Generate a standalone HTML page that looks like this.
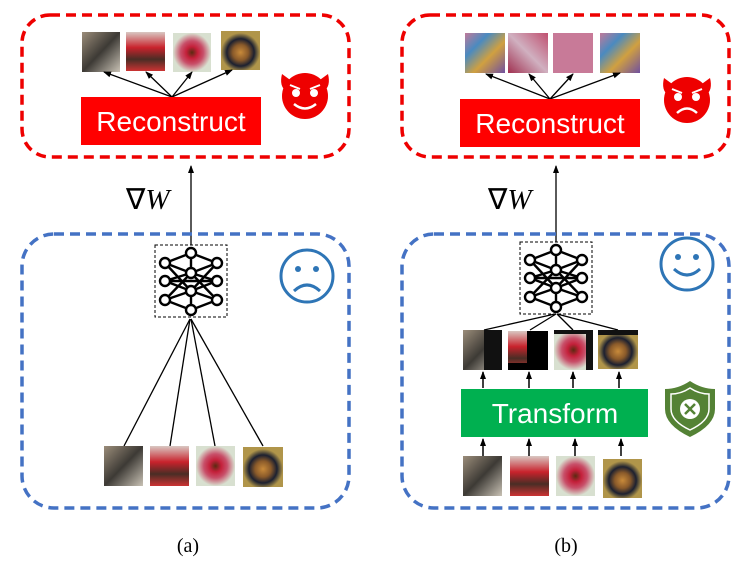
<!DOCTYPE html>
<html><head><style>body{margin:0;background:#fff}svg{display:block}</style></head><body>
<svg width="752" height="582" viewBox="0 0 752 582" xmlns="http://www.w3.org/2000/svg" font-family="Liberation Sans, sans-serif">
<defs>
<marker id="ah" markerWidth="8" markerHeight="8" refX="7" refY="4" orient="auto" markerUnits="userSpaceOnUse"><path d="M0,1 L8,4 L0,7 z" fill="#000"/></marker>
<g id="net">
<rect x="0" y="0" width="72" height="72" fill="none" stroke="#000" stroke-width="1" stroke-dasharray="3,2"/>
<g stroke="#000" stroke-width="2.4" fill="none">
<path d="M36,8 L10,18 M36,8 L62,18 M36,8 L36,28 M10,18 L36,28 L62,18 M10,18 L36,46 M62,18 L36,46 M10,36 L36,28 L62,36 M10,36 L36,46 L62,36 M10,36 L62,36 M10,55 L36,46 L62,55 M10,55 L36,65 L62,55 M10,55 L36,28 M62,55 L36,28 M36,46 L36,65"/>
</g>
<g stroke="#000" stroke-width="2.4" fill="#fff">
<circle cx="36" cy="8" r="5"/><circle cx="10" cy="18" r="5"/><circle cx="62" cy="18" r="5"/>
<circle cx="36" cy="28" r="5"/><circle cx="10" cy="36" r="5"/><circle cx="62" cy="36" r="5"/>
<circle cx="36" cy="46" r="5"/><circle cx="10" cy="55" r="5"/><circle cx="62" cy="55" r="5"/>
<circle cx="36" cy="65" r="5"/>
</g>
</g>
<linearGradient id="g1" x1="0" y1="0" x2="1" y2="1"><stop offset="0" stop-color="#9b8d7a"/><stop offset=".5" stop-color="#3d3a35"/><stop offset="1" stop-color="#c9c2b5"/></linearGradient>
<linearGradient id="g2" x1="0" y1="0" x2="0" y2="1"><stop offset="0" stop-color="#d9c7c2"/><stop offset=".4" stop-color="#c9222c"/><stop offset=".7" stop-color="#4a2d25"/><stop offset="1" stop-color="#c33"/></linearGradient>
<radialGradient id="g3"><stop offset="0" stop-color="#5a2a10"/><stop offset=".3" stop-color="#c4203a"/><stop offset=".6" stop-color="#c8506a"/><stop offset="1" stop-color="#d8e0d0"/></radialGradient>
<radialGradient id="g4" cy=".55"><stop offset="0" stop-color="#c88a3a"/><stop offset=".4" stop-color="#8a5a2a"/><stop offset=".7" stop-color="#1c2030"/><stop offset="1" stop-color="#b0954a"/></radialGradient>
<linearGradient id="n1" x1="0" y1="0" x2="1" y2="1"><stop offset="0" stop-color="#c07a9a"/><stop offset=".3" stop-color="#4a8ac0"/><stop offset=".6" stop-color="#d0a040"/><stop offset="1" stop-color="#7050a0"/></linearGradient>
<linearGradient id="n2" x1="1" y1="0" x2="0" y2="1"><stop offset="0" stop-color="#c05070"/><stop offset=".5" stop-color="#d0b0c0"/><stop offset="1" stop-color="#a03050"/></linearGradient>
</defs>

<!-- LEFT -->
<rect x="22" y="15" width="327" height="142" rx="28" fill="none" stroke="#e00" stroke-width="3.5" stroke-dasharray="10,6"/>
<rect x="82" y="32" width="38" height="40" fill="url(#g1)"/>
<rect x="126" y="32" width="39" height="39" fill="url(#g2)"/>
<rect x="173" y="33" width="38" height="39" fill="url(#g3)"/>
<rect x="221" y="31" width="39" height="39" fill="url(#g4)"/>
<g stroke="#000" stroke-width="1.3" marker-end="url(#ah)">
<line x1="172" y1="97" x2="104" y2="72"/><line x1="172" y1="97" x2="146" y2="72"/><line x1="172" y1="97" x2="192" y2="72"/><line x1="172" y1="97" x2="232" y2="70"/>
</g>
<rect x="81" y="97" width="180" height="48" fill="#f00"/>
<text x="171" y="131" fill="#fff" font-size="28" text-anchor="middle">Reconstruct</text>
<g transform="translate(305,96)">
<path d="M-23,-22 Q-26,-10 -19,-5 L-12,-14 Z M23,-22 Q26,-10 19,-5 L12,-14 Z" fill="#e00"/>
<circle r="23" fill="#e00"/>
<circle cx="-9" cy="-3" r="4" fill="#fff"/><circle cx="9" cy="-3" r="4" fill="#fff"/>
<path d="M-15,-11 L-5,-7 M15,-11 L5,-7" stroke="#fff" stroke-width="2"/>
<path d="M-11,8 Q0,17 11,8" stroke="#fff" stroke-width="2.5" fill="none"/>
</g>
<line x1="191" y1="245" x2="191" y2="166" stroke="#000" stroke-width="1.3" marker-end="url(#ah)"/>
<text x="126" y="209" font-family="Liberation Serif, serif" font-size="29">∇<tspan font-style="italic">W</tspan></text>

<rect x="22" y="234" width="327" height="274" rx="32" fill="none" stroke="#4472c4" stroke-width="3.5" stroke-dasharray="10,6"/>
<use href="#net" x="155" y="245"/>
<g transform="translate(307,276)" stroke="#2e75b6" stroke-width="3" fill="none">
<circle r="26"/><path d="M-13,15 Q0,3 13,15"/>
<circle cx="-9" cy="-7" r="3" fill="#2e75b6" stroke="none"/><circle cx="9" cy="-7" r="3" fill="#2e75b6" stroke="none"/>
</g>
<g stroke="#000" stroke-width="1.3">
<line x1="124" y1="446" x2="190" y2="319"/><line x1="170" y1="446" x2="190" y2="319"/><line x1="215" y1="446" x2="191" y2="319"/><line x1="263" y1="446" x2="191" y2="319"/>
</g>
<rect x="104" y="446" width="39" height="40" fill="url(#g1)"/>
<rect x="150" y="446" width="39" height="40" fill="url(#g2)"/>
<rect x="196" y="446" width="39" height="40" fill="url(#g3)"/>
<rect x="243" y="447" width="40" height="40" fill="url(#g4)"/>
<text x="188" y="552" font-family="Liberation Serif, serif" font-size="20" text-anchor="middle">(a)</text>

<!-- RIGHT -->
<rect x="402" y="15" width="327" height="142" rx="28" fill="none" stroke="#e00" stroke-width="3.5" stroke-dasharray="10,6"/>
<rect x="465" y="33" width="40" height="40" fill="url(#n1)"/>
<rect x="508" y="33" width="40" height="40" fill="url(#n2)"/>
<rect x="553" y="33" width="40" height="40" fill="#c87a98"/>
<rect x="600" y="33" width="40" height="40" fill="url(#n1)"/>
<g stroke="#000" stroke-width="1.3" marker-end="url(#ah)">
<line x1="550" y1="99" x2="486" y2="74"/><line x1="550" y1="99" x2="529" y2="74"/><line x1="550" y1="99" x2="573" y2="74"/><line x1="550" y1="99" x2="620" y2="73"/>
</g>
<rect x="460" y="99" width="180" height="48" fill="#f00"/>
<text x="550" y="133" fill="#fff" font-size="28" text-anchor="middle">Reconstruct</text>
<g transform="translate(687,100)">
<path d="M-23,-22 Q-26,-10 -19,-5 L-12,-14 Z M23,-22 Q26,-10 19,-5 L12,-14 Z" fill="#e00"/>
<circle r="23" fill="#e00"/>
<circle cx="-9" cy="-3" r="4" fill="#fff"/><circle cx="9" cy="-3" r="4" fill="#fff"/>
<path d="M-15,-11 L-5,-7 M15,-11 L5,-7" stroke="#fff" stroke-width="2"/>
<path d="M-10,13 Q0,4 10,13" stroke="#fff" stroke-width="2.5" fill="none"/>
</g>
<line x1="556" y1="242" x2="556" y2="166" stroke="#000" stroke-width="1.3" marker-end="url(#ah)"/>
<text x="488" y="209" font-family="Liberation Serif, serif" font-size="29">∇<tspan font-style="italic">W</tspan></text>

<rect x="402" y="234" width="327" height="274" rx="32" fill="none" stroke="#4472c4" stroke-width="3.5" stroke-dasharray="10,6"/>
<use href="#net" x="520" y="242"/>
<g transform="translate(687,264)" stroke="#2e75b6" stroke-width="3" fill="none">
<circle r="26"/><path d="M-13,5 Q0,17 13,5"/>
<circle cx="-9" cy="-7" r="3" fill="#2e75b6" stroke="none"/><circle cx="9" cy="-7" r="3" fill="#2e75b6" stroke="none"/>
</g>
<g stroke="#000" stroke-width="1.3">
<line x1="484" y1="330" x2="555" y2="314"/><line x1="530" y1="330" x2="556" y2="314"/><line x1="573" y1="330" x2="557" y2="314"/><line x1="618" y1="330" x2="557" y2="314"/>
</g>
<rect x="463" y="330" width="39" height="40" fill="url(#g1)"/><rect x="484" y="330" width="18" height="40" fill="#111"/>
<rect x="508" y="331" width="40" height="39" fill="url(#g2)"/><rect x="527" y="331" width="21" height="39" fill="#000"/><rect x="508" y="363" width="40" height="7" fill="#000"/>
<rect x="554" y="330" width="39" height="40" fill="url(#g3)"/><rect x="586" y="330" width="7" height="40" fill="#111"/><rect x="554" y="330" width="39" height="4" fill="#111"/>
<rect x="598" y="330" width="40" height="39" fill="url(#g4)"/><rect x="598" y="330" width="40" height="5" fill="#111"/>
<g stroke="#000" stroke-width="1.5" marker-end="url(#ah)">
<line x1="483" y1="388" x2="483" y2="372"/><line x1="529" y1="388" x2="529" y2="372"/><line x1="573" y1="388" x2="573" y2="372"/><line x1="619" y1="388" x2="619" y2="372"/>
<line x1="483" y1="456" x2="483" y2="439"/><line x1="529" y1="456" x2="529" y2="439"/><line x1="575" y1="456" x2="575" y2="439"/><line x1="621" y1="456" x2="621" y2="439"/>
</g>
<rect x="461" y="389" width="187" height="48" fill="#00b050"/>
<text x="555" y="423" fill="#fff" font-size="28" text-anchor="middle">Transform</text>
<g transform="translate(690,407)">
<path d="M0,-26 Q12,-18 25,-18 L25,2 Q25,18 0,30 Q-25,18 -25,2 L-25,-18 Q-12,-18 0,-26 Z" fill="#548235"/>
<path d="M0,-19 Q9,-13 19,-13 L19,2 Q19,14 0,23 Q-19,14 -19,2 L-19,-13 Q-9,-13 0,-19 Z" fill="none" stroke="#fff" stroke-width="1.5"/>
<circle cy="2" r="10" fill="#fff"/>
<path d="M-5,-3 L5,7 M5,-3 L-5,7" stroke="#548235" stroke-width="2.5"/>
</g>
<rect x="463" y="456" width="39" height="40" fill="url(#g1)"/>
<rect x="510" y="456" width="39" height="40" fill="url(#g2)"/>
<rect x="556" y="456" width="39" height="40" fill="url(#g3)"/>
<rect x="603" y="459" width="39" height="39" fill="url(#g4)"/>
<text x="566" y="552" font-family="Liberation Serif, serif" font-size="20" text-anchor="middle">(b)</text>
</svg>
</body></html>
